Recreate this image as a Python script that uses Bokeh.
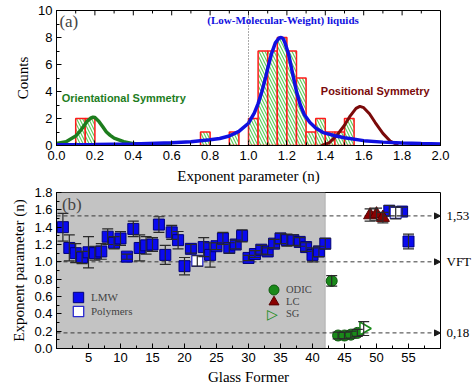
import numpy as np
from bokeh.plotting import figure
from bokeh.layouts import column
from bokeh.models import (ColumnDataSource, Label, Span, BoxAnnotation, Whisker, TeeHead,
                          LinearAxis, SingleIntervalTicker, FixedTicker, PrintfTickFormatter,
                          Legend, LegendItem, Arrow, NormalHead)
from bokeh.embed import file_html
from bokeh.resources import INLINE

# ---------------- panel (a) data ----------------
bin_left = [0.10, 0.15, 0.75, 0.90, 1.00, 1.05, 1.10, 1.15, 1.20, 1.25, 1.30, 1.35, 1.40, 1.45, 1.50]
bin_counts = [2, 2, 1, 1, 2, 7, 7, 8, 7, 5, 1, 2, 1, 1, 2]
BIN_W = 0.05

lmw_fit_n = [0.0, 0.2, 0.4, 0.6, 0.7, 0.8, 0.85, 0.9, 0.95, 1.0,
             1.03, 1.05, 1.07, 1.09, 1.1, 1.12, 1.14, 1.16, 1.17, 1.18,
             1.19, 1.21, 1.23, 1.25, 1.27, 1.29, 1.32, 1.35, 1.39, 1.45,
             1.5, 1.6, 1.7, 1.8, 1.9, 2.0]
lmw_fit_c = [0.05, 0.08, 0.12, 0.2, 0.28, 0.42, 0.52, 0.7, 1.05, 1.65,
             2.4, 3.1, 4.0, 5.1, 5.7, 6.8, 7.6, 7.97, 8.0, 7.92,
             7.6, 6.7, 5.3, 4.0, 3.0, 2.3, 1.7, 1.3, 0.95, 0.72,
             0.58, 0.36, 0.25, 0.18, 0.14, 0.11]

orient_fit_n = [0.0, 0.05, 0.1, 0.13, 0.16, 0.18, 0.19, 0.2, 0.22, 0.24,
                0.26, 0.28, 0.3, 0.35, 0.4, 0.45, 0.5, 0.6]
orient_fit_c = [0.15, 0.28, 0.7, 1.2, 1.8, 2.05, 2.1, 2.07, 1.8, 1.4,
                1.0, 0.75, 0.55, 0.28, 0.14, 0.08, 0.05, 0.02]

pos_fit_n = [1.38, 1.42, 1.46, 1.5, 1.53, 1.56, 1.58, 1.6, 1.63, 1.66, 1.7, 1.74, 1.78]
pos_fit_c = [0.0, 0.2, 0.75, 1.5, 2.2, 2.75, 2.9, 2.8, 2.35, 1.7, 0.9, 0.3, 0.03]

# ---------------- panel (b) data ----------------
lmw_x = [1, 2, 3, 4, 5, 6, 7, 8, 9, 10, 11, 12, 13, 14, 15, 16, 17, 18, 19, 20, 21,
         23, 24, 25, 26, 27, 28, 29, 30, 31, 32, 33, 34, 35, 36, 37, 38, 39, 40, 41, 42,
         52, 54, 55]
lmw_y = [1.40, 1.16, 1.10, 1.05, 1.11, 1.10, 1.12, 1.29, 1.22, 1.27, 1.06, 1.38, 1.16, 1.19,
         1.20, 1.43, 1.08, 1.34, 1.25, 0.95, 1.15,
         1.17, 1.08, 1.18, 1.27, 1.16, 1.20, 1.30, 1.045, 1.09, 1.14, 1.12, 1.21, 1.27, 1.25,
         1.25, 1.23, 1.17, 1.08, 1.12, 1.21,
         1.59, 1.58, 1.235]
lmw_err = [0.16, 0.15, 0.11, 0.07, 0.18, 0.08, 0.09, 0.09, 0.07, 0.08, 0.03, 0.09, 0.15, 0.10,
           0.08, 0.09, 0.11, 0.08, 0.10, 0.10, 0.05,
           0.11, 0.14, 0.04, 0.07, 0.06, 0.05, 0.07, 0.03, 0.04, 0.05, 0.04, 0.05, 0.06, 0.07,
           0.06, 0.05, 0.05, 0.08, 0.06, 0.06,
           0.06, 0.05, 0.085]

poly_x = [22, 53]
poly_y = [1.01, 1.565]
poly_err = [0.06, 0.07]

odic_x = [43, 44, 45, 46, 47]
odic_y = [0.78, 0.15, 0.15, 0.16, 0.18]
odic_err = [0.06, 0.04, 0.04, 0.04, 0.04]

lc_x = [49, 50, 51]
lc_y = [1.54, 1.55, 1.51]
lc_err = [0.07, 0.07, 0.06]

sg_x = [48]
sg_y = [0.23]
sg_err = [0.08]

ref_values = [0.18, 1.0, 1.53]
ref_labels = ["0,18", "VFT", "1,53"]
glass_ticks = [5, 10, 15, 20, 25, 30, 35, 40, 45, 50, 55]
lmw_region_end = 42

SERIF = "Liberation Serif"
SANS = "Liberation Sans"
GREEN = "#1a8a1a"


def style_axes(p):
    for ax in p.xaxis + p.yaxis:
        ax.major_tick_in = 5
        ax.major_tick_out = 0
        ax.minor_tick_in = 3
        ax.minor_tick_out = 0
        ax.major_label_text_font = SANS
        ax.major_label_text_font_size = "13px"
        ax.major_label_text_color = "black"
        ax.axis_label_text_font = SERIF
        ax.axis_label_text_font_size = "15px"
        ax.axis_label_text_font_style = "normal"
        ax.axis_label_text_color = "black"
        ax.axis_line_color = "black"
        ax.major_tick_line_color = "black"
        ax.minor_tick_line_color = "black"
        ax.major_label_standoff = 4
        ax.axis_label_standoff = 4
    p.grid.visible = False
    p.outline_line_color = "black"
    p.outline_line_width = 1
    p.outline_line_alpha = 1


# ---------------- figure (a) ----------------
p1 = figure(width=474, height=186, x_range=(0, 2), y_range=(0, 10),
            output_backend="svg", toolbar_location=None,
            min_border_left=55, min_border_right=32, min_border_top=10, min_border_bottom=38)
p1.xaxis.ticker = SingleIntervalTicker(interval=0.2, num_minor_ticks=2)
p1.xaxis.formatter = PrintfTickFormatter(format="%.1f")
p1.yaxis.ticker = SingleIntervalTicker(interval=2, num_minor_ticks=2)
p1.xaxis.axis_label = "Exponent parameter (n)"
p1.yaxis.axis_label = "Counts"
style_axes(p1)
p1.xaxis.major_label_standoff = 5
p1.xaxis.axis_label_standoff = 5

# mirrored tick marks along the top edge of panel (a)
top_major = np.arange(0.0, 2.001, 0.2)
top_minor = np.arange(0.1, 2.0, 0.2)
p1.segment(x0=top_major, y0=10, x1=top_major, y1=9.64, line_color="black", line_width=1)
p1.segment(x0=top_minor, y0=10, x1=top_minor, y1=9.78, line_color="black", line_width=1)

left = np.array(bin_left)
hist_src = ColumnDataSource(dict(left=left, right=left + BIN_W, top=bin_counts))
p1.quad(left="left", right="right", top="top", bottom=0, source=hist_src,
        fill_color="white", line_color="#ff1a1a", line_width=1.5,
        hatch_pattern="\\", hatch_color="#5fcf5f", hatch_scale=6, hatch_weight=1.2)

p1.add_layout(Span(location=1.0, dimension="height", line_color="#555555",
                   line_dash="1 2", line_width=1))

p1.line(orient_fit_n, orient_fit_c, line_color="#1d7d1d", line_width=3.5)
p1.line(pos_fit_n, pos_fit_c, line_color="#7a0a0a", line_width=3)
p1.line(lmw_fit_n, lmw_fit_c, line_color="#1010e0", line_width=3.5)

p1.add_layout(Label(x=0.015, y=9.15, text="(a)", text_font=SERIF, text_font_size="17px",
                    text_baseline="middle", text_align="left"))
p1.add_layout(Label(x=1.18, y=9.3, text="(Low-Molecular-Weight) liquids", text_font=SERIF,
                    text_font_size="11px", text_font_style="bold", text_color="#1010e0",
                    text_baseline="middle", text_align="center"))
p1.add_layout(Label(x=0.35, y=3.5, text="Orientational Symmetry", text_font=SANS,
                    text_font_size="11px", text_font_style="bold", text_color="#1d7d1d",
                    text_baseline="middle", text_align="center"))
p1.add_layout(Label(x=1.66, y=4.05, text="Positional Symmetry", text_font=SANS,
                    text_font_size="11px", text_font_style="bold", text_color="#7a0a0a",
                    text_baseline="middle", text_align="center"))

# ---------------- figure (b) ----------------
p2 = figure(width=474, height=201, x_range=(0, 60), y_range=(0, 1.8),
            output_backend="svg", toolbar_location=None,
            min_border_left=56, min_border_right=31, min_border_top=6, min_border_bottom=36)
p2.xaxis.ticker = FixedTicker(ticks=glass_ticks,
                              minor_ticks=list(np.arange(0, 60.1, 2.5)))
p2.yaxis.ticker = SingleIntervalTicker(interval=0.2, num_minor_ticks=2)
p2.yaxis.formatter = PrintfTickFormatter(format="%.1f")
p2.xaxis.axis_label = "Glass Former"
p2.yaxis.axis_label = "Exponent parameter (n)"

right_ax = LinearAxis(ticker=FixedTicker(ticks=ref_values),
                      major_label_overrides={v: t for v, t in zip(ref_values, ref_labels)})
p2.add_layout(right_ax, "right")
style_axes(p2)
right_ax.major_tick_in = 0
right_ax.major_tick_out = 0
right_ax.minor_tick_in = 0
right_ax.axis_line_alpha = 0
right_ax.major_label_text_font = SERIF
right_ax.major_label_text_font_size = "13px"
right_ax.major_label_standoff = 6

p2.add_layout(BoxAnnotation(left=0, right=lmw_region_end, fill_color="#c3c3c3", fill_alpha=1,
                            line_color="#606060", line_width=1, level="underlay"))
for v in ref_values:
    p2.add_layout(Span(location=v, dimension="width", line_color="#3a3a3a",
                       line_dash="4 3", line_width=1, level="underlay"))
    p2.add_layout(Arrow(x_start=57.5, y_start=v, x_end=60, y_end=v, line_alpha=0,
                        end=NormalHead(size=6, fill_color="#1a1a1a", line_color="#1a1a1a")))


def add_series(xs, ys, errs, **kw):
    xs = np.array(xs, dtype=float)
    ys = np.array(ys, dtype=float)
    es = np.array(errs, dtype=float)
    src = ColumnDataSource(dict(x=xs, y=ys, up=ys + es, lo=ys - es))
    w = Whisker(base="x", upper="up", lower="lo", source=src, level="glyph",
                line_color="#2a2a2a", line_width=1.2,
                upper_head=TeeHead(size=11, line_color="#2a2a2a", line_width=1.2),
                lower_head=TeeHead(size=11, line_color="#2a2a2a", line_width=1.2))
    p2.add_layout(w)
    return p2.scatter("x", "y", source=src, **kw)


r_lmw = add_series(lmw_x, lmw_y, lmw_err, marker="square", size=11,
                   fill_color="#0a0af0", line_color="#00007a", line_width=1)
r_poly = add_series(poly_x, poly_y, poly_err, marker="square", size=11,
                    fill_color="white", line_color="#2a2ad0", line_width=1.3)
r_odic = add_series(odic_x, odic_y, odic_err, marker="circle", size=11,
                    fill_color=GREEN, line_color="#0d5a0d", line_width=1)
r_lc = add_series(lc_x, lc_y, lc_err, marker="triangle", size=13,
                  fill_color="#8b0000", line_color="#550000", line_width=1)
r_sg = add_series(sg_x, sg_y, sg_err, marker="triangle", size=13, angle=-np.pi / 2,
                  fill_color="white", line_color=GREEN, line_width=1.6)
# invisible stand-in for the SG legend entry (legend markers ignore the rotation angle)
r_sg_key = p2.scatter(x=[], y=[], marker="triangle", size=1, fill_alpha=0, line_alpha=0)

p2.add_layout(Label(x=0.85, y=1.66, text="(b)", text_font=SERIF, text_font_size="17px",
                    text_baseline="middle", text_align="left"))


def legend_entry(label, renderer, loc, box, fs):
    # one legend per entry so that the marker box (and thus marker size) can exceed row spacing
    lg = Legend(items=[LegendItem(label=label, renderers=[renderer])], location=loc,
                background_fill_alpha=0, border_line_alpha=0,
                label_text_font=SERIF, label_text_font_size=fs,
                glyph_height=box, glyph_width=box, label_height=box,
                spacing=0, padding=0, margin=0, label_standoff=0)
    p2.add_layout(lg, "center")


legend_entry("LMW", r_lmw, (9, 38), 26, "11px")
legend_entry("Polymers", r_poly, (9, 24), 26, "11px")
legend_entry("ODIC", r_odic, (205, 46), 25, "10.5px")
legend_entry("LC", r_lc, (205, 34), 25, "10.5px")
legend_entry("SG", r_sg_key, (205, 22), 25, "10.5px")

# right-pointing open triangle as the SG legend key
p2.add_layout(Label(x=33.75, y=0.40, text="\u25B7", text_font="DejaVu Sans",
                    text_font_size="14px", text_color=GREEN, text_font_style="bold",
                    text_baseline="middle", text_align="center"))

layout = column(p1, p2, spacing=0)
open("out.html", "w").write(file_html(layout, INLINE))
